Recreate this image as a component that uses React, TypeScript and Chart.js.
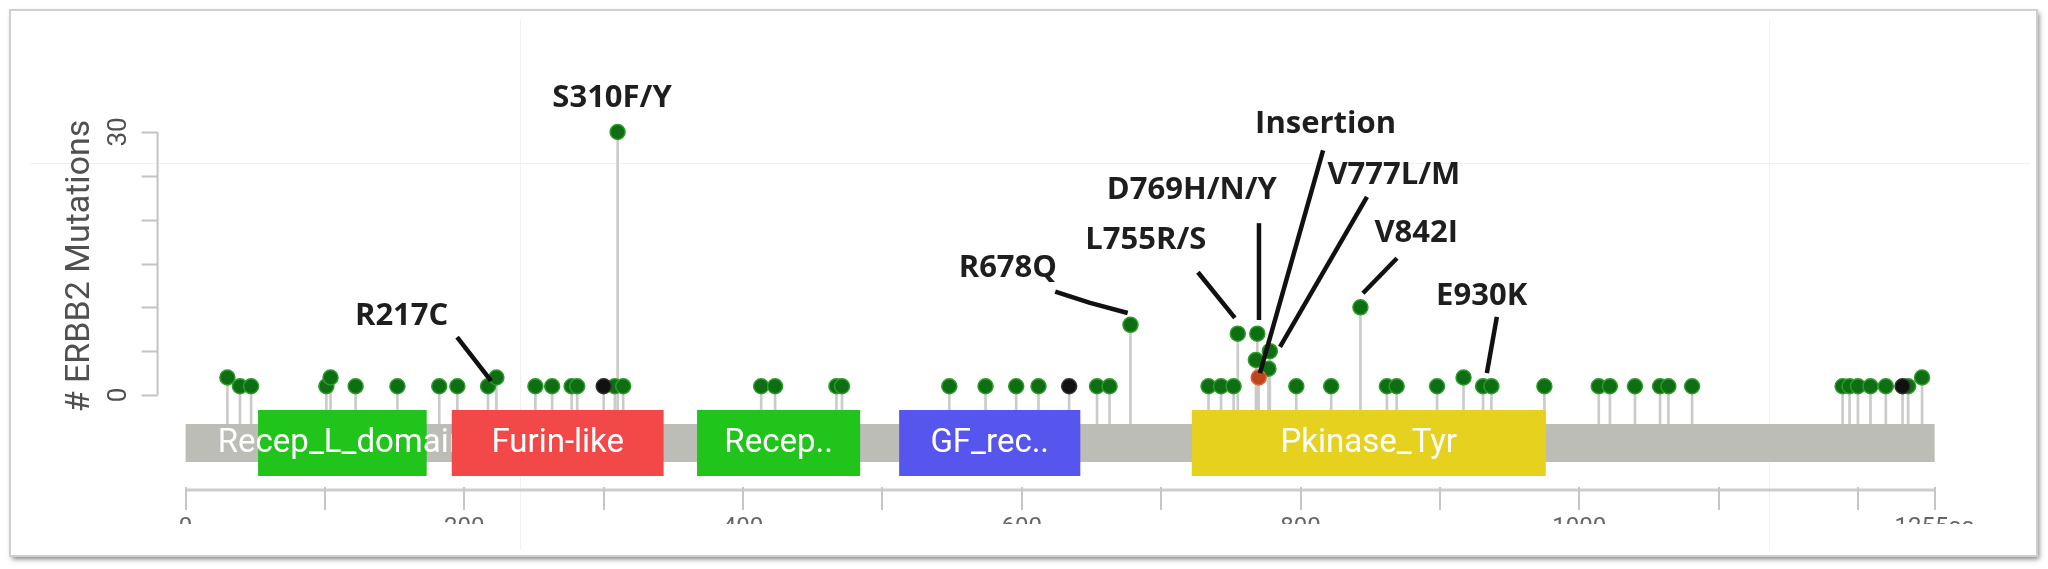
import React, { useEffect, useRef } from 'react';
import { Chart, registerables } from 'chart.js';

Chart.register(...registerables);

// ---------------- data ----------------
const PROTEIN_LENGTH = 1255;

const MUT_POS = [
  30, 39, 47, 101, 104, 122, 152, 182, 195, 217, 223, 251, 263, 277, 281, 300, 308, 310, 314,
  413, 423, 467, 471, 548, 574, 596, 612, 634, 654, 663, 678, 734, 743, 752, 755, 768, 769,
  770, 777, 778, 797, 822, 843, 862, 869, 898, 917, 931, 937, 975, 1014, 1022, 1040, 1058,
  1064, 1081, 1189, 1194, 1200, 1209, 1220, 1232, 1236, 1246,
];
const MUT_COUNT = [
  2, 1, 1, 1, 2, 1, 1, 1, 1, 1, 2, 1, 1, 1, 1, 1, 1, 30, 1,
  1, 1, 1, 1, 1, 1, 1, 1, 1, 1, 1, 8, 1, 1, 1, 7, 4, 7,
  2, 3, 5, 1, 1, 10, 1, 1, 1, 2, 1, 1, 1, 1, 1, 1, 1,
  1, 1, 1, 1, 1, 1, 1, 1, 1, 2,
];
// M = missense (green), T = truncating (black), I = inframe / insertion (orange)
const MUT_TYPE = [
  'M', 'M', 'M', 'M', 'M', 'M', 'M', 'M', 'M', 'M', 'M', 'M', 'M', 'M', 'M', 'T', 'M', 'M', 'M',
  'M', 'M', 'M', 'M', 'M', 'M', 'M', 'M', 'T', 'M', 'M', 'M', 'M', 'M', 'M', 'M', 'M', 'M',
  'I', 'M', 'M', 'M', 'M', 'M', 'M', 'M', 'M', 'M', 'M', 'M', 'M', 'M', 'M', 'M', 'M',
  'M', 'M', 'M', 'M', 'M', 'M', 'M', 'T', 'M', 'M',
];

const DOMAIN_NAMES = ['Recep_L_domain', 'Furin-like', 'Recep..', 'GF_rec..', 'Pkinase_Tyr'];
const DOMAIN_START = [52, 191, 367, 512, 722];
const DOMAIN_END = [173, 343, 484, 642, 976];
const DOMAIN_COLORS = ['#20c41a', '#f24848', '#20c41a', '#5656ee', '#e6d21e'];

const Y_TICK_VALUES = [0, 30];
const Y_TICK_LABELS = ['0', '30'];
const X_TICK_VALUES = [0, 100, 200, 300, 400, 500, 600, 700, 800, 900, 1000, 1100, 1200, 1255];
const X_LABEL_VALUES = [0, 200, 400, 600, 800, 1000, 1255];
const X_LABELS = ['0', '200', '400', '600', '800', '1000', '1255aa'];
const Y_TITLE = '# ERBB2 Mutations';

const ANNOT_TEXT = ['S310F/Y', 'R217C', 'R678Q', 'L755R/S', 'D769H/N/Y', 'Insertion', 'V777L/M', 'V842I', 'E930K'];

// ---------------- layout (label anchors / leader lines in data units) ----------------
const ANNOT_LAYOUT = [
  { lx: 306, ly: 33.9, line: [] as number[][] },
  { lx: 155, ly: 9.0, line: [[194.8, 6.6], [219.2, 1.6]] },
  { lx: 590, ly: 14.5, line: [[624, 11.8], [649, 10.5], [676, 9.35]] },
  { lx: 689, ly: 17.7, line: [[726.4, 14.0], [752.9, 8.8]] },
  { lx: 722, ly: 23.4, line: [[770.2, 19.6], [770.2, 8.55]] },
  { lx: 818, ly: 30.9, line: [[816.2, 27.9], [770.9, 2.5]] },
  { lx: 867, ly: 25.1, line: [[847.7, 22.6], [785.3, 5.5]] },
  { lx: 883, ly: 18.5, line: [[869.2, 15.6], [844.8, 11.6]] },
  { lx: 930, ly: 11.3, line: [[940.9, 8.9], [933.7, 2.5]] },
];

const W = 2048;
const H = 569;
const PLOT_LEFT = 185.6;
const PLOT_RIGHT = 1934.6;
const ZERO_Y = 395;
const TOP_Y = 132;
const AXIS_Y = 490;
const Y_MAX = 30;
const Y_MIN = -((AXIS_Y - ZERO_Y) / (ZERO_Y - TOP_Y)) * Y_MAX;

const BAR_TOP = -3.31;
const BAR_BOTTOM = -7.64;
const DOM_TOP = -1.71;
const DOM_BOTTOM = -9.24;

const backgroundPlugin = {
  id: 'bgFrame',
  beforeDraw(chart: any) {
    const ctx = chart.ctx;
    ctx.save();
    ctx.fillStyle = '#ffffff';
    ctx.fillRect(0, 0, W, H);
    // frame with shadow
    ctx.shadowColor = 'rgba(0,0,0,0.5)';
    ctx.shadowBlur = 5;
    ctx.shadowOffsetX = 2;
    ctx.shadowOffsetY = 3;
    ctx.fillStyle = '#ffffff';
    ctx.fillRect(10, 10, 2027, 546);
    ctx.shadowColor = 'transparent';
    ctx.strokeStyle = '#cfcfcf';
    ctx.lineWidth = 2;
    ctx.strokeRect(10, 10, 2027, 546);
    // faint sheet grid behind
    ctx.strokeStyle = '#f1f1f1';
    ctx.lineWidth = 1;
    ctx.beginPath();
    ctx.moveTo(30, 163.5); ctx.lineTo(2030, 163.5);
    ctx.moveTo(520.5, 20); ctx.lineTo(520.5, 550);
    ctx.moveTo(1769.5, 20); ctx.lineTo(1769.5, 550);
    ctx.stroke();
    ctx.restore();
  },
  beforeDatasetsDraw(chart: any) {
    const ctx = chart.ctx;
    const xs = chart.scales.x;
    const ys = chart.scales.y;
    ctx.save();
    // y axis
    const ax = xs.getPixelForValue(0) - 28;
    ctx.strokeStyle = '#c4c4c4';
    ctx.lineWidth = 2;
    ctx.beginPath();
    ctx.moveTo(ax, ys.getPixelForValue(Y_MAX));
    ctx.lineTo(ax, ys.getPixelForValue(0));
    for (let v = 0; v <= Y_MAX; v += 5) {
      const yy = Math.round(ys.getPixelForValue(v)) + 0.5;
      ctx.moveTo(ax - 16, yy);
      ctx.lineTo(ax, yy);
    }
    ctx.stroke();
    ctx.fillStyle = '#505050';
    ctx.font = '26px Roboto';
    ctx.textAlign = 'center';
    ctx.textBaseline = 'middle';
    Y_TICK_VALUES.forEach((v, i) => {
      ctx.save();
      ctx.translate(ax - 38, ys.getPixelForValue(v));
      ctx.rotate(-Math.PI / 2);
      ctx.fillText(Y_TICK_LABELS[i], 0, 0);
      ctx.restore();
    });
    ctx.save();
    ctx.font = '34px Roboto';
    ctx.translate(80, 266);
    ctx.rotate(-Math.PI / 2);
    ctx.fillText(Y_TITLE, 0, 0);
    ctx.restore();

    // x axis
    const by = chart.chartArea.bottom;
    ctx.strokeStyle = '#cdcdcd';
    ctx.lineWidth = 3;
    ctx.beginPath();
    ctx.moveTo(xs.getPixelForValue(0), by);
    ctx.lineTo(xs.getPixelForValue(PROTEIN_LENGTH), by);
    ctx.stroke();
    ctx.lineWidth = 2;
    ctx.strokeStyle = '#c6c6c6';
    ctx.beginPath();
    X_TICK_VALUES.forEach((v) => {
      const xx = Math.round(xs.getPixelForValue(v));
      ctx.moveTo(xx, by - 3);
      ctx.lineTo(xx, by + 20);
    });
    ctx.stroke();
    ctx.save();
    ctx.beginPath();
    ctx.rect(0, 0, W, 524);
    ctx.clip();
    ctx.fillStyle = '#666';
    ctx.font = '24px Roboto';
    ctx.textAlign = 'center';
    ctx.textBaseline = 'top';
    X_LABEL_VALUES.forEach((v, i) => {
      ctx.fillText(X_LABELS[i], xs.getPixelForValue(v), 516);
    });
    ctx.restore();
    ctx.restore();
  },
  afterDatasetDraw(chart: any, args: any) {
    if (args.index !== 0) return;
    const ctx = chart.ctx;
    const xs = chart.scales.x;
    const ys = chart.scales.y;
    ctx.save();
    // protein backbone
    const bx0 = xs.getPixelForValue(0);
    const bx1 = xs.getPixelForValue(PROTEIN_LENGTH);
    const bt = ys.getPixelForValue(BAR_TOP);
    const bb = ys.getPixelForValue(BAR_BOTTOM);
    ctx.fillStyle = '#bcbdb7';
    ctx.fillRect(bx0, bt, bx1 - bx0, bb - bt);
    const dt = ys.getPixelForValue(DOM_TOP);
    const db = ys.getPixelForValue(DOM_BOTTOM);
    DOMAIN_NAMES.forEach((name, i) => {
      const x0 = xs.getPixelForValue(DOMAIN_START[i]);
      const x1 = xs.getPixelForValue(DOMAIN_END[i]);
      ctx.fillStyle = DOMAIN_COLORS[i];
      ctx.fillRect(x0, dt, x1 - x0, db - dt);
      ctx.fillStyle = '#ffffff';
      ctx.font = '33px Roboto';
      ctx.textAlign = 'center';
      ctx.textBaseline = 'middle';
      ctx.fillText(name, (x0 + x1) / 2, (bt + bb) / 2 + 1);
    });
    ctx.restore();
  },
  afterDatasetsDraw(chart: any) {
    const ctx = chart.ctx;
    const xs = chart.scales.x;
    const ys = chart.scales.y;
    ctx.save();
    ctx.strokeStyle = '#111';
    ctx.lineWidth = 4.5;
    ctx.lineCap = 'butt';
    ctx.lineJoin = 'round';
    ANNOT_LAYOUT.forEach((a) => {
      if (a.line.length < 2) return;
      ctx.beginPath();
      a.line.forEach((p, j) => {
        const X = xs.getPixelForValue(p[0]);
        const Y = ys.getPixelForValue(p[1]);
        if (j === 0) ctx.moveTo(X, Y);
        else ctx.lineTo(X, Y);
      });
      ctx.stroke();
    });
    ctx.fillStyle = '#1e1e1e';
    ctx.font = 'bold 31px "Open Sans"';
    ctx.textAlign = 'center';
    ctx.textBaseline = 'middle';
    ANNOT_TEXT.forEach((t, i) => {
      const a = ANNOT_LAYOUT[i];
      ctx.fillText(t, xs.getPixelForValue(a.lx), ys.getPixelForValue(a.ly));
    });
    ctx.restore();
  },
};

function pointsOf(type: string) {
  const out: { x: number; y: number }[] = [];
  MUT_POS.forEach((p, i) => {
    if (MUT_TYPE[i] === type) out.push({ x: p, y: MUT_COUNT[i] });
  });
  return out;
}

export default function App() {
  const ref = useRef<HTMLCanvasElement | null>(null);
  useEffect(() => {
    if (!ref.current) return;
    const chart = new Chart(ref.current, {
      type: 'scatter',
      data: {
        datasets: [
          {
            type: 'bar',
            label: 'stems',
            data: MUT_POS.map((p, i) => ({ x: p, y: [BAR_TOP, MUT_COUNT[i]] })) as any,
            backgroundColor: '#cbcbcb',
            borderWidth: 0,
            barThickness: 2,
            order: 10,
            clip: false as any,
          } as any,
          {
            label: 'Missense',
            data: pointsOf('M'),
            pointRadius: 7.5,
            backgroundColor: '#0e6e12',
            borderColor: '#2c9c2c',
            borderWidth: 1.5,
            order: 3,
            clip: false as any,
          },
          {
            label: 'Truncating',
            data: pointsOf('T'),
            pointRadius: 7.5,
            backgroundColor: '#111111',
            borderColor: '#333333',
            borderWidth: 1.5,
            order: 2,
            clip: false as any,
          },
          {
            label: 'Inframe',
            data: pointsOf('I'),
            pointRadius: 7.5,
            backgroundColor: '#c0441c',
            borderColor: '#d8652e',
            borderWidth: 1.5,
            order: 1,
            clip: false as any,
          },
        ],
      },
      options: {
        responsive: false,
        maintainAspectRatio: false,
        animation: false,
        devicePixelRatio: 1,
        events: [],
        layout: {
          padding: { left: PLOT_LEFT, right: W - PLOT_RIGHT, top: TOP_Y, bottom: H - AXIS_Y },
        },
        scales: {
          x: { type: 'linear', min: 0, max: PROTEIN_LENGTH, display: false, offset: false },
          y: { type: 'linear', min: Y_MIN, max: Y_MAX, display: false },
        },
        plugins: { legend: { display: false }, tooltip: { enabled: false } },
      },
      plugins: [backgroundPlugin],
    });
    return () => chart.destroy();
  }, []);
  return (
    <div style={{ position: 'fixed', left: 0, top: 0, width: W, height: H, background: '#fff' }}>
      <canvas ref={ref} width={W} height={H} style={{ width: W, height: H, display: 'block' }} />
    </div>
  );
}
